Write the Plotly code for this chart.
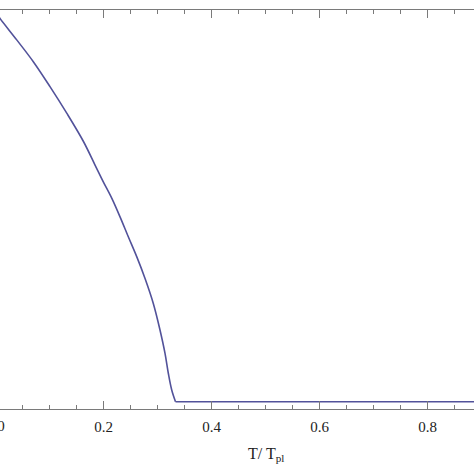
import plotly.graph_objects as go

# curve (y in arbitrary units, no y axis shown)
t_ratio = [0.0, 0.0083, 0.0393, 0.0700, 0.1009, 0.1319, 0.1626, 0.1843,
           0.1996, 0.2152, 0.2306, 0.2459, 0.2615, 0.2769, 0.2922, 0.3046,
           0.3139, 0.3200, 0.3263, 0.3333]
y_vals = [1.0, 0.983, 0.928, 0.872, 0.808, 0.740, 0.668, 0.607,
          0.564, 0.522, 0.474, 0.423, 0.372, 0.316, 0.252, 0.184,
          0.124, 0.073, 0.030, 0.0]
# flat branch above the transition
t_flat = [0.3333, 1.0]
y_flat = [0.0, 0.0]

tick_vals = [0.0, 0.2, 0.4, 0.6, 0.8, 1.0]
tick_text = ['0.0', '0.2', '0.4', '0.6', '0.8', '1.0']

serif = 'Liberation Serif, Times New Roman, serif'
axis_grey = '#7a7a7a'
line_col = '#52529a'

fig = go.Figure()
fig.add_trace(go.Scatter(x=t_ratio, y=y_vals, mode='lines',
                         line=dict(color=line_col, width=1.6,
                                   shape='spline', smoothing=1.0),
                         hoverinfo='skip', showlegend=False))
fig.add_trace(go.Scatter(x=t_flat, y=y_flat, mode='lines',
                         line=dict(color=line_col, width=1.6),
                         hoverinfo='skip', showlegend=False))

fig.update_xaxes(range=[0.0083, 0.8861],
                 tickvals=tick_vals, ticktext=tick_text,
                 ticks='inside', ticklen=8, tickwidth=1, tickcolor=axis_grey,
                 minor=dict(dtick=0.05, ticks='inside', ticklen=4,
                            tickcolor=axis_grey, tickwidth=1),
                 showline=True, linecolor=axis_grey, linewidth=1,
                 mirror='allticks', showgrid=False, zeroline=False,
                 ticklabelstandoff=4,
                 tickfont=dict(family=serif, size=15, color='#222222'))
# top of range trimmed so the curve keeps its place with a 10 px top margin
fig.update_yaxes(range=[-0.0187, 1.0046], showline=False, ticks='',
                 showticklabels=False, showgrid=False, zeroline=False)

# left tick label is cut by the image border
fig.add_annotation(text='0.0', xref='paper', yref='paper', x=0, y=0,
                   xanchor='center', yanchor='top', xshift=-4.5, yshift=-7,
                   showarrow=False,
                   font=dict(family=serif, size=15, color='#222222'))
# axis title centred on T = 0.5 of the full frame
fig.add_annotation(text='T/ T<sub>pl</sub>', xref='x', yref='paper',
                   x=0.5, y=0, xanchor='center', yanchor='top', yshift=-34,
                   showarrow=False,
                   font=dict(family=serif, size=16, color='#222222'))

fig.update_layout(width=474, height=474,
                  margin=dict(l=0, r=0, t=10, b=65),
                  plot_bgcolor='white', paper_bgcolor='white')

fig.write_html("out.html", config={'displayModeBar': False},
               post_script="document.body.style.margin='0';")
